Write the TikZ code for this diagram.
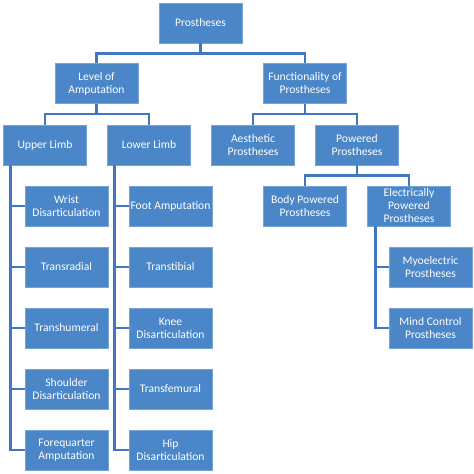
\documentclass[tikz,border=0pt]{standalone}
\usepackage{fontspec}
\setmainfont{Carlito}
\usepackage{tikz}
\usetikzlibrary{positioning, calc}
\definecolor{boxblue}{RGB}{74,134,200}
\definecolor{lineblue}{RGB}{66,118,190}
\tikzset{
  box/.style={draw=boxblue!75!white,line width=0.6pt,fill=boxblue,text=white,
    minimum width=83pt,minimum height=40pt,inner sep=1pt,align=center,
    font=\fontsize{11.6}{13}\selectfont},
  conn/.style={draw=lineblue,line width=2.6pt},
}
\begin{document}
\begin{tikzpicture}[x=1pt,y=-1pt]
  \useasboundingbox (0,0) rectangle (474,474);
  % root and first level
  \node[box] (pros) at (200.5,23) {Prostheses};
  \node[box] (level) at (96.5,83.5) {Level of\\Amputation};
  \node[box] (func) at (305,83.5) {Functionality of\\Prostheses};
  % second level
  \node[box] (upper) at (45,145) {Upper Limb};
  \node[box] (lower) at (149,145) {Lower Limb};
  \node[box] (aest) at (253,145) {Aesthetic\\Prostheses};
  \node[box] (pow) at (357,145) {Powered\\Prostheses};
  \node[box] (body) at (305,206) {Body Powered\\Prostheses};
  \node[box] (elec) at (409,206) {Electrically\\Powered\\Prostheses};
  % upper limb levels
  \node[box] (wrist) at (66.5,206) {Wrist\\Disarticulation};
  \node[box] (tradial) at (66.5,267) {Transradial};
  \node[box] (thum) at (66.5,328) {Transhumeral};
  \node[box] (should) at (66.5,389) {Shoulder\\Disarticulation};
  \node[box] (foreq) at (66.5,450) {Forequarter\\Amputation};
  % lower limb levels
  \node[box] (foot) at (170.5,206) {Foot Amputation};
  \node[box] (ttib) at (170.5,267) {Transtibial};
  \node[box] (knee) at (170.5,328) {Knee\\Disarticulation};
  \node[box] (tfem) at (170.5,389) {Transfemural};
  \node[box] (hip) at (170.5,450) {Hip\\Disarticulation};
  % electrically powered kinds
  \node[box] (myo) at (430.5,267) {Myoelectric\\Prostheses};
  \node[box] (mind) at (430.5,328) {Mind Control\\Prostheses};
  % tree connectors
  \foreach \p/\c in {pros/level, pros/func, level/upper, level/lower,
      func/aest, func/pow, pow/body, pow/elec}
    \draw[conn] (\p.south) -- ++(0,10) -| (\c.north);
  % side connectors
  \foreach \c in {wrist, tradial, thum, should, foreq}
    \draw[conn] ([xshift=7pt]upper.south west) |- (\c.west);
  \foreach \c in {foot, ttib, knee, tfem, hip}
    \draw[conn] ([xshift=7pt]lower.south west) |- (\c.west);
  \foreach \c in {myo, mind}
    \draw[conn] ([xshift=8pt]elec.south west) |- (\c.west);
\end{tikzpicture}
\end{document}
